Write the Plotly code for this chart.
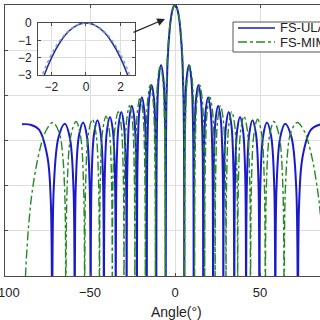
import plotly.graph_objects as go

# ---------------- data ----------------
series_names = ["FS-ULA", "FS-MIMO"]

ula_angle = [
    -90.0, -85.0, -80.0, -75.0, -73.0, -72.25,
    -71.32, -68.52, -64.79, -61.90, -59.72, -59.00,
    -58.38, -56.53, -54.05, -51.84, -50.18, -49.63,
    -49.12, -47.61, -45.58, -43.70, -42.28, -41.81,
    -41.37, -40.03, -38.25, -36.55, -35.28, -34.85,
    -34.44, -33.22, -31.59, -30.02, -28.83, -28.44,
    -28.06, -26.91, -25.38, -23.89, -22.77, -22.40,
    -22.03, -20.94, -19.47, -18.04, -16.96, -16.60,
    -16.25, -15.19, -13.77, -12.38, -11.33, -10.98,
    -10.63, -9.60, -8.21, -6.84, -5.80, -5.46,
    -5.3, -5.0, -4.5, -4.0, -3.0, -2.5, -2.0, -1.5, -1.0, -0.5,
    0.0,
    0.5, 1.0, 1.5, 2.0, 2.5, 3.0, 4.0, 4.5, 5.0, 5.3,
    5.46, 5.80, 6.84, 8.21, 9.60, 10.63,
    10.98, 11.33, 12.38, 13.77, 15.19, 16.25,
    16.60, 16.96, 18.04, 19.47, 20.94, 22.03,
    22.40, 22.77, 23.89, 25.38, 26.91, 28.06,
    28.44, 28.83, 30.02, 31.59, 33.22, 34.44,
    34.85, 35.28, 36.55, 38.25, 40.03, 41.37,
    41.81, 42.28, 43.70, 45.58, 47.61, 49.12,
    49.63, 50.18, 51.84, 54.05, 56.53, 58.38,
    59.00, 59.72, 61.90, 64.79, 68.52, 71.32,
    72.25, 73.0, 75.0, 80.0, 85.0, 90.0,
]
ula_db = [
    -26.4, -26.5, -27.6, -33.7, -44.2, -80,
    -40.5, -29.3, -26.3, -29.3, -40.5, -80,
    -40.2, -29.0, -26.0, -29.0, -40.2, -80,
    -39.7, -28.5, -25.5, -28.5, -39.7, -80,
    -39.0, -27.8, -24.8, -27.8, -39.0, -80,
    -37.9, -26.7, -23.7, -26.7, -37.9, -80,
    -36.5, -25.3, -22.3, -25.3, -36.5, -80,
    -34.6, -23.4, -20.4, -23.4, -34.6, -80,
    -31.9, -20.7, -17.7, -20.7, -31.9, -80,
    -27.5, -16.3, -13.3, -16.3, -27.5, -80,
    -30.2, -20.75, -13.85, -9.80, -4.85, -3.24, -2.01, -1.11, -0.48, -0.12,
    0.0,
    -0.12, -0.48, -1.11, -2.01, -3.24, -4.85, -9.80, -13.85, -20.75, -30.2,
    -80, -27.5, -16.3, -13.3, -16.3, -27.5,
    -80, -31.9, -20.7, -17.7, -20.7, -31.9,
    -80, -34.6, -23.4, -20.4, -23.4, -34.6,
    -80, -36.5, -25.3, -22.3, -25.3, -36.5,
    -80, -37.9, -26.7, -23.7, -26.7, -37.9,
    -80, -39.0, -27.8, -24.8, -27.8, -39.0,
    -80, -39.7, -28.5, -25.5, -28.5, -39.7,
    -80, -40.2, -29.0, -26.0, -29.0, -40.2,
    -80, -40.5, -29.3, -26.3, -29.3, -40.5,
    -80, -44.2, -33.7, -27.6, -26.5, -26.4,
]

mimo_angle = [
    -90.0, -88.0, -87.5, -86.0, -84.0, -80.0, -76.0, -71.81, -68.0, -66.0, -65.0, -64.5, -64.16,
    -63.42, -61.19, -58.21, -55.67, -53.77, -53.13,
    -52.56, -50.86, -48.59, -46.51, -44.95, -44.43,
    -43.94, -42.49, -40.54, -38.71, -37.33, -36.87,
    -36.43, -35.12, -33.37, -31.69, -30.42, -30.0,
    -29.59, -28.37, -26.74, -25.16, -23.98, -23.58,
    -23.19, -22.04, -20.49, -18.98, -17.84, -17.46,
    -17.09, -15.97, -14.48, -13.01, -11.91, -11.54,
    -11.18, -10.09, -8.63, -7.19, -6.10, -5.74,
    -5.5, -5.0, -4.5, -4.0, -3.0, -2.5, -2.0, -1.5, -1.0, -0.5,
    0.0,
    0.5, 1.0, 1.5, 2.0, 2.5, 3.0, 4.0, 4.5, 5.0, 5.5,
    5.74, 6.10, 7.19, 8.63, 10.09, 11.18,
    11.54, 11.91, 13.01, 14.48, 15.97, 17.09,
    17.46, 17.84, 18.98, 20.49, 22.04, 23.19,
    23.58, 23.98, 25.16, 26.74, 28.37, 29.59,
    30.0, 30.42, 31.69, 33.37, 35.12, 36.43,
    36.87, 37.33, 38.71, 40.54, 42.49, 43.94,
    44.43, 44.95, 46.51, 48.59, 50.86, 52.56,
    53.13, 53.77, 55.67, 58.21, 61.19, 63.42,
    64.16, 64.5, 65.0, 66.0, 68.0, 71.81, 76.0, 80.0, 84.0, 86.0, 87.5, 88.0, 90.0,
]
mimo_db = [
    -80, -60.6, -56.6, -48.4, -41.3, -32.8, -27.9, -26.0, -28.4, -33.6, -40.1, -47.7, -80,
    -40.0, -28.8, -25.8, -28.8, -40.0, -80,
    -39.5, -28.3, -25.3, -28.3, -39.5, -80,
    -38.8, -27.6, -24.6, -27.6, -38.8, -80,
    -37.8, -26.6, -23.6, -26.6, -37.8, -80,
    -36.5, -25.3, -22.3, -25.3, -36.5, -80,
    -34.6, -23.4, -20.4, -23.4, -34.6, -80,
    -31.9, -20.7, -17.7, -20.7, -31.9, -80,
    -27.6, -16.4, -13.4, -16.4, -27.6, -80,
    -27.3, -16.86, -11.9, -8.61, -4.34, -2.91, -1.81, -1.00, -0.44, -0.11,
    0.0,
    -0.11, -0.44, -1.00, -1.81, -2.91, -4.34, -8.61, -11.9, -16.86, -27.3,
    -80, -27.6, -16.4, -13.4, -16.4, -27.6,
    -80, -31.9, -20.7, -17.7, -20.7, -31.9,
    -80, -34.6, -23.4, -20.4, -23.4, -34.6,
    -80, -36.5, -25.3, -22.3, -25.3, -36.5,
    -80, -37.8, -26.6, -23.6, -26.6, -37.8,
    -80, -38.8, -27.6, -24.6, -27.6, -38.8,
    -80, -39.5, -28.3, -25.3, -28.3, -39.5,
    -80, -40.0, -28.8, -25.8, -28.8, -40.0,
    -80, -47.7, -40.1, -33.6, -28.4, -26.0, -27.9, -32.8, -41.3, -48.4, -56.6, -60.6, -80,
]

x_ticks = [-100, -50, 0, 50, 100]
y_ticks = [-60, -50, -40, -30, -20, -10, 0]
inset_x_ticks = [-2, 0, 2]
inset_y_ticks = [-3, -2, -1, 0]
x_title = "Angle(°)"

# ---------------- styling ----------------
FONT = "Liberation Sans, Arial, sans-serif"
BLUE = "#1a1ac8"
GREEN = "#238a23"
GRID = "#dedede"
AXIS = "#4a4a4a"

W, H = 320, 320
ML, MR, MT, MB = 5, 0, 5, 44
PW, PH = W - ML - MR, H - MT - MB


def px(xp):
    return (xp - ML) / PW


def py(yp):
    return (H - MB - yp) / PH


fig = go.Figure()

fig.add_trace(go.Scatter(x=ula_angle, y=ula_db, mode="lines", name=series_names[0],
                         line=dict(color=BLUE, width=2, shape="spline", smoothing=1),
                         xaxis="x", yaxis="y", showlegend=False))
fig.add_trace(go.Scatter(x=mimo_angle, y=mimo_db, mode="lines", name=series_names[1],
                         line=dict(color=GREEN, width=1.4, dash="dashdot", shape="spline", smoothing=1),
                         xaxis="x", yaxis="y", showlegend=False))

# inset
fig.add_trace(go.Scatter(x=ula_angle, y=ula_db, mode="lines", name=series_names[0],
                         line=dict(color="#2a2a9a", width=1.5, shape="spline", smoothing=1),
                         xaxis="x2", yaxis="y2", showlegend=False))
fig.add_trace(go.Scatter(x=mimo_angle, y=mimo_db, mode="lines", name=series_names[1],
                         line=dict(color="#78a3c8", width=1.5, dash="dot", shape="spline", smoothing=1),
                         xaxis="x2", yaxis="y2", showlegend=False))

axis_common = dict(showgrid=True, gridcolor=GRID, gridwidth=1, zeroline=False,
                   showline=True, linecolor=AXIS, linewidth=1, ticks="inside", automargin=False,
                   ticklen=3, tickcolor=AXIS, tickfont=dict(family=FONT, size=13, color="#222"))

fig.update_layout(
    width=W, height=H,
    margin=dict(l=ML, r=MR, t=MT, b=MB, autoexpand=False),
    paper_bgcolor="white", plot_bgcolor="white",
    font=dict(family=FONT, size=13, color="#222"),
    xaxis=dict(range=[-100, -100 + (175 - ML) / 1.70 * (PW / (175 - ML)) * 1.0 if False else -100 + PW / 1.70],
               tickvals=x_ticks, mirror="ticks",
               ticklabelstandoff=4, ticklabeloverflow="allow", **axis_common),
    yaxis=dict(range=[-60, 0], tickvals=y_ticks, mirror=False, showticklabels=False,
               **axis_common),
    xaxis2=dict(domain=[px(38), px(135)], anchor="y2", range=[-2.78, 2.84],
                tickvals=inset_x_ticks, showgrid=True, gridcolor=GRID, zeroline=False,
                showline=True, linecolor=AXIS, linewidth=1, mirror="ticks", ticks="inside",
                ticklen=3, tickcolor=AXIS, ticklabelstandoff=1, automargin=False,
                tickfont=dict(family=FONT, size=12, color="#222")),
    yaxis2=dict(domain=[py(75), py(23)], anchor="x2", range=[-3, 0],
                tickvals=inset_y_ticks, showgrid=True, gridcolor=GRID, zeroline=False,
                showline=True, linecolor=AXIS, linewidth=1, mirror="ticks", ticks="inside",
                ticklen=3, tickcolor=AXIS, ticklabelstandoff=3, automargin=False,
                tickfont=dict(family=FONT, size=12, color="#222")),
    showlegend=False,
)

# x-axis title
fig.add_annotation(text=x_title, xref="paper", yref="paper", x=px(176), y=py(312),
                   xanchor="center", yanchor="middle", showarrow=False,
                   font=dict(family=FONT, size=14, color="#222"))

# arrow from inset to main lobe
fig.add_annotation(x=px(165), y=py(19), xref="paper", yref="paper", ax=132 - 165, ay=33 - 19,
                   axref="pixel", ayref="pixel", text="", showarrow=True,
                   arrowhead=2, arrowsize=1.3, arrowwidth=1.2, arrowcolor="#222")

# legend (box, line samples, labels)
fig.add_shape(type="rect", xref="paper", yref="paper", x0=px(233), x1=px(340),
              y0=py(52), y1=py(22), line=dict(color="#555", width=1), fillcolor="white",
              layer="above")
fig.add_shape(type="line", xref="paper", yref="paper", x0=px(238), x1=px(275),
              y0=py(28), y1=py(28), line=dict(color=BLUE, width=1.5), layer="above")
fig.add_shape(type="line", xref="paper", yref="paper", x0=px(238), x1=px(275),
              y0=py(42), y1=py(42), line=dict(color=GREEN, width=1.4, dash="dashdot"), layer="above")
fig.add_annotation(text=series_names[0], xref="paper", yref="paper", x=px(278), y=py(28),
                   xanchor="left", yanchor="middle", showarrow=False,
                   font=dict(family=FONT, size=13, color="#222"))
fig.add_annotation(text=series_names[1], xref="paper", yref="paper", x=px(278), y=py(42),
                   xanchor="left", yanchor="middle", showarrow=False,
                   font=dict(family=FONT, size=13, color="#222"))

fig.write_html("out.html")
